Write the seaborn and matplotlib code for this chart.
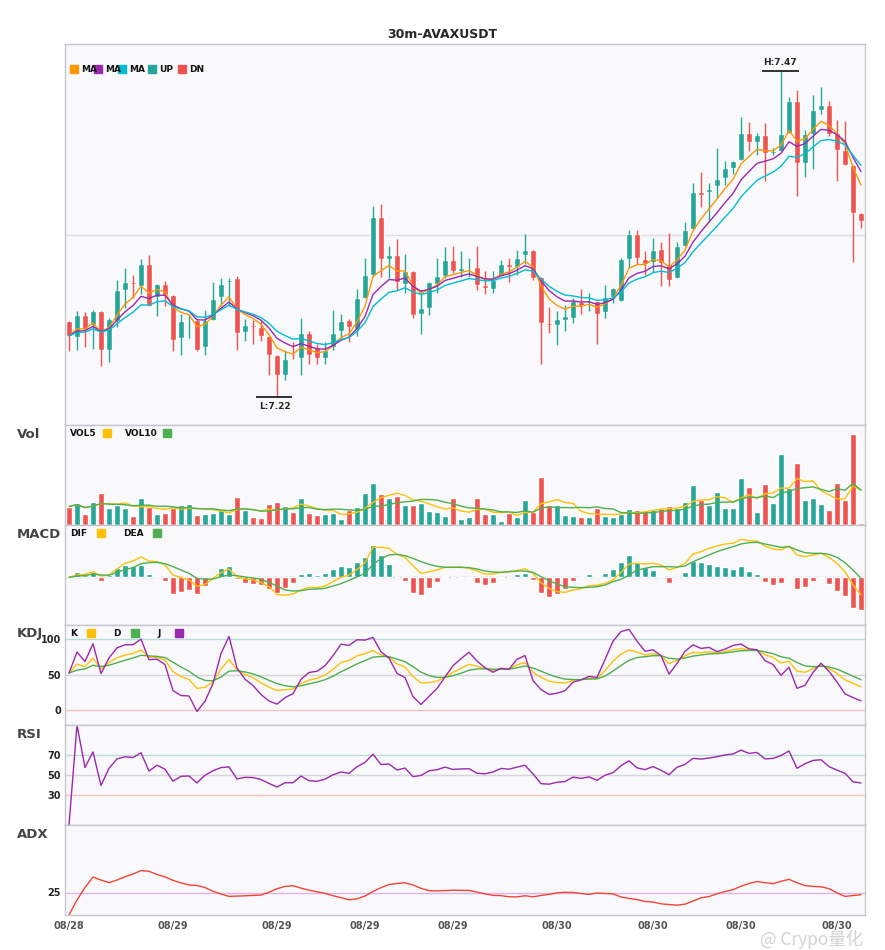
import numpy as np
import pandas as pd
import seaborn as sns
import matplotlib
matplotlib.use('Agg')
import matplotlib.pyplot as plt
from matplotlib.patches import Rectangle

# 30m candles
opens = [7.278, 7.266, 7.283, 7.275, 7.286, 7.256, 7.278, 7.302, 7.308, 7.305,
         7.322, 7.297, 7.307, 7.298, 7.265, 7.278, 7.279, 7.258, 7.279, 7.297,
         7.308, 7.311, 7.270, 7.275, 7.274, 7.267, 7.252, 7.237, 7.250, 7.250,
         7.269, 7.258, 7.250, 7.258, 7.271, 7.279, 7.272, 7.296, 7.314, 7.358,
         7.326, 7.329, 7.307, 7.317, 7.284, 7.288, 7.307, 7.313, 7.325, 7.317,
         7.319, 7.320, 7.306, 7.303, 7.313, 7.322, 7.320, 7.329, 7.333, 7.312,
         7.277, 7.275, 7.279, 7.281, 7.293, 7.292, 7.294, 7.285, 7.297, 7.294,
         7.326, 7.345, 7.326, 7.324, 7.334, 7.322, 7.311, 7.336, 7.349, 7.377,
         7.377, 7.382, 7.388, 7.396, 7.402, 7.423, 7.416, 7.421, 7.407, 7.409,
         7.423, 7.447, 7.400, 7.422, 7.440, 7.444, 7.423, 7.410, 7.398, 7.361]
highs = [7.278, 7.286, 7.285, 7.287, 7.286, 7.281, 7.310, 7.319, 7.314, 7.326,
         7.329, 7.307, 7.309, 7.298, 7.284, 7.284, 7.279, 7.287, 7.308, 7.311,
         7.311, 7.313, 7.280, 7.279, 7.278, 7.267, 7.252, 7.256, 7.262, 7.281,
         7.271, 7.261, 7.262, 7.287, 7.284, 7.280, 7.303, 7.327, 7.367, 7.368,
         7.336, 7.341, 7.330, 7.317, 7.302, 7.308, 7.327, 7.335, 7.336, 7.332,
         7.327, 7.336, 7.317, 7.317, 7.325, 7.327, 7.333, 7.345, 7.333, 7.312,
         7.289, 7.286, 7.291, 7.296, 7.303, 7.300, 7.294, 7.306, 7.304, 7.327,
         7.348, 7.348, 7.332, 7.342, 7.339, 7.346, 7.339, 7.354, 7.384, 7.393,
         7.384, 7.411, 7.401, 7.401, 7.435, 7.431, 7.423, 7.430, 7.411, 7.470,
         7.450, 7.456, 7.425, 7.452, 7.458, 7.447, 7.433, 7.432, 7.398, 7.361]
lows = [7.255, 7.256, 7.258, 7.257, 7.244, 7.247, 7.274, 7.288, 7.296, 7.299,
        7.290, 7.282, 7.290, 7.255, 7.252, 7.265, 7.255, 7.252, 7.279, 7.290,
        7.290, 7.256, 7.263, 7.261, 7.263, 7.237, 7.220, 7.233, 7.249, 7.237,
        7.245, 7.245, 7.245, 7.256, 7.265, 7.262, 7.267, 7.296, 7.313, 7.312,
        7.311, 7.302, 7.300, 7.281, 7.268, 7.283, 7.300, 7.311, 7.315, 7.312,
        7.312, 7.302, 7.299, 7.300, 7.313, 7.308, 7.314, 7.322, 7.310, 7.245,
        7.269, 7.260, 7.271, 7.277, 7.284, 7.286, 7.261, 7.281, 7.292, 7.294,
        7.319, 7.322, 7.314, 7.316, 7.305, 7.305, 7.311, 7.336, 7.348, 7.366,
        7.355, 7.373, 7.383, 7.391, 7.402, 7.409, 7.406, 7.386, 7.406, 7.409,
        7.423, 7.374, 7.389, 7.395, 7.437, 7.420, 7.386, 7.398, 7.324, 7.350]
closes = [7.267, 7.283, 7.272, 7.286, 7.256, 7.280, 7.302, 7.308, 7.307, 7.322,
          7.290, 7.307, 7.298, 7.264, 7.278, 7.279, 7.256, 7.279, 7.295, 7.307,
          7.310, 7.269, 7.275, 7.274, 7.267, 7.252, 7.237, 7.249, 7.249, 7.269,
          7.252, 7.250, 7.256, 7.269, 7.278, 7.274, 7.296, 7.314, 7.358, 7.326,
          7.329, 7.308, 7.317, 7.283, 7.288, 7.308, 7.313, 7.325, 7.317, 7.319,
          7.320, 7.306, 7.304, 7.310, 7.322, 7.320, 7.327, 7.333, 7.311, 7.277,
          7.275, 7.280, 7.282, 7.294, 7.290, 7.294, 7.284, 7.297, 7.304, 7.326,
          7.345, 7.327, 7.322, 7.333, 7.323, 7.310, 7.336, 7.348, 7.377, 7.375,
          7.380, 7.387, 7.396, 7.401, 7.423, 7.416, 7.421, 7.407, 7.409, 7.422,
          7.447, 7.400, 7.422, 7.440, 7.444, 7.422, 7.410, 7.398, 7.361, 7.355]
vol_k = [55, 67, 34, 70, 94, 52, 60, 52, 28, 79,
         55, 34, 37, 51, 61, 64, 31, 34, 37, 44,
         34, 82, 44, 25, 22, 64, 70, 58, 40, 79,
         37, 31, 34, 37, 19, 45, 55, 94, 124, 91,
         79, 85, 61, 61, 67, 43, 40, 28, 79, 19,
         25, 79, 34, 34, 13, 37, 25, 76, 40, 142,
         61, 61, 31, 28, 25, 25, 52, 28, 25, 34,
         49, 46, 43, 46, 52, 58, 52, 70, 118, 76,
         61, 97, 52, 52, 139, 112, 40, 121, 67, 211,
         109, 184, 76, 79, 64, 46, 124, 76, 271, 7]

# MACD (units of 1e-4)
dif_e4 = [0, 7, 9, 17, 4, 7, 25, 42, 49, 61,
          49, 47, 37, 7, -1, -8, -27, -21, -3, 14,
          25, 2, -5, -8, -15, -28, -51, -54, -50, -38,
          -30, -31, -26, -13, 0, 7, 23, 44, 90, 90,
          87, 69, 60, 35, 12, 17, 22, 30, 31, 31,
          27, 19, 10, 10, 15, 17, 20, 26, 12, -16,
          -33, -43, -45, -38, -34, -25, -24, -18, -8, 15,
          40, 42, 40, 42, 37, 22, 30, 42, 70, 77,
          87, 94, 100, 102, 114, 110, 109, 94, 85, 82,
          94, 67, 62, 67, 72, 60, 42, 17, -23, -53]
dea_e4 = [0, 4, 5, 10, 7, 6, 15, 23, 29, 41,
          44, 45, 41, 32, 22, 12, -3, -6, -5, 2,
          7, 5, 1, -2, -6, -15, -26, -38, -41, -40,
          -36, -35, -33, -26, -19, -9, 1, 12, 39, 56,
          67, 69, 65, 57, 47, 39, 33, 30, 30, 30,
          29, 25, 19, 16, 15, 17, 19, 19, 15, 2,
          -10, -20, -28, -30, -31, -30, -28, -23, -13, -6,
          7, 22, 27, 32, 32, 32, 31, 34, 47, 57,
          67, 77, 85, 92, 100, 104, 105, 100, 95, 90,
          92, 82, 74, 72, 72, 69, 60, 44, 22, -3]
hist_e4 = [0, 16, 8, 16, -10, 7, 28, 37, 34, 38,
           10, 4, -10, -50, -43, -37, -49, -26, 4, 28,
           34, -4, -16, -19, -22, -34, -46, -31, -16, 10,
           13, 7, 13, 26, 34, 31, 46, 61, 97, 67,
           40, 0, -10, -46, -52, -31, -13, 4, 0, -1,
           -2, -16, -22, -16, -2, 0, 10, 13, -8, -46,
           -58, -49, -34, -10, -2, 10, 4, 13, 25, 46,
           67, 45, 32, 22, 4, -16, 0, 16, 49, 46,
           40, 34, 31, 25, 34, 19, 10, -14, -22, -16,
           4, -35, -29, -10, -2, -19, -40, -55, -91, -98]

ma_spans = [5, 8, 12]
tick_idx = [0, 13, 26, 37, 48, 61, 73, 84, 96]
start_time = '2023-08-28 17:30'

UP = '#26a69a'
DN = '#ef5350'

df = pd.DataFrame({'open': opens, 'high': highs, 'low': lows,
                   'close': closes, 'vol': vol_k})
df['time'] = pd.date_range(start_time, periods=len(df), freq='30min')
df['idx'] = np.arange(len(df))
df['dif'] = np.array(dif_e4) / 1e4
df['dea'] = np.array(dea_e4) / 1e4
df['hist'] = np.array(hist_e4) / 1e4
c = df['close']

# moving averages (exponential)
for n in ma_spans:
    df[f'ma{n}'] = c.ewm(span=n, adjust=False).mean()
df['vol5'] = df['vol'].rolling(5, min_periods=1).mean()
df['vol10'] = df['vol'].rolling(10, min_periods=1).mean()

# KDJ
llv = df['low'].rolling(9, min_periods=1).min()
hhv = df['high'].rolling(9, min_periods=1).max()
rsv = (c - llv) / (hhv - llv) * 100
df['k'] = rsv.ewm(com=2, adjust=False).mean()
df['d'] = df['k'].ewm(com=2, adjust=False).mean()
df['j'] = 3 * df['k'] - 2 * df['d']

# RSI
delta = c.diff().fillna(0)
up_m = delta.clip(lower=0).ewm(alpha=1 / 14).mean()
dn_m = (-delta.clip(upper=0)).ewm(alpha=1 / 14).mean()
df['rsi'] = (100 - 100 / (1 + up_m / dn_m)).fillna(0)

# ADX
pc = c.shift(1)
tr = pd.concat([df['high'] - df['low'], (df['high'] - pc).abs(),
                (df['low'] - pc).abs()], axis=1).max(axis=1)
hd = df['high'].diff()
ld = -df['low'].diff()
pdm = pd.Series(np.where((hd > 0) & (hd > ld), hd, 0.0))
mdm = pd.Series(np.where((ld > 0) & (ld > hd), ld, 0.0))
atr = tr.ewm(alpha=1 / 14).mean()
pdi = 100 * pdm.ewm(alpha=1 / 14).mean() / atr
mdi = 100 * mdm.ewm(alpha=1 / 14).mean() / atr
dx = ((pdi - mdi).abs() / (pdi + mdi) * 100).fillna(0)
df['adx'] = dx.ewm(alpha=1 / 6, adjust=False).mean()

sns.set_theme(style='white')
plt.rcParams['font.family'] = ['DejaVu Sans', 'Noto Sans CJK SC']

W, H = 885, 950
fig = plt.figure(figsize=(W / 100, H / 100), dpi=100)


def panel(top, bottom):
    ax = fig.add_axes([65 / W, 1 - bottom / H, 800 / W, (bottom - top) / H])
    ax.set_facecolor('#f9f9fb')
    for s in ax.spines.values():
        s.set_color('#c6c6ce')
        s.set_linewidth(1)
    ax.set_xlim(-0.5, len(df) - 0.5)
    ax.set_xticks([])
    ax.set_yticks([])
    return ax


def line(ax, col, color, lw=1.0):
    sns.lineplot(data=df, x='idx', y=col, ax=ax, color=color, linewidth=lw, legend=False)
    ax.set_xlabel('')
    ax.set_ylabel('')


def legend_box(x, y, color):
    fig.add_artist(Rectangle((x / W, 1 - (y + 4) / H), 8 / W, 8 / H,
                             transform=fig.transFigure, color=color))


def legend_txt(x, y, s):
    fig.text(x / W, 1 - y / H, s, fontsize=6.5, fontweight='bold', va='center', color='#111')


def side_label(y, s):
    fig.text(17 / W, 1 - y / H, s, fontsize=9.5, fontweight='bold', va='center', color='#444')


def yticks(ax, vals):
    ax.set_yticks(vals)
    ax.tick_params(axis='y', labelsize=7, length=0, pad=3)
    for t in ax.get_yticklabels():
        t.set_fontweight('bold')


colors = np.where(df['close'] >= df['open'], UP, DN)

# ---- candles
ax = panel(44, 425)
ax.vlines(df['idx'], df['low'], df['high'], colors=colors, linewidth=1)
body_lo = np.minimum(df['open'], df['close'])
body_h = np.maximum((df['open'] - df['close']).abs(), 0.0008)
ax.bar(df['idx'], body_h, bottom=body_lo, width=0.66, color=colors)
for n, col in zip(ma_spans, ['#ff9800', '#9c27b0', '#00bcd4']):
    line(ax, f'ma{n}', col)
lo, hi = df['low'].min(), df['high'].max()
rng = hi - lo
ax.set_ylim(lo - 0.086 * rng, hi + 0.084 * rng)
ax.axhline(sum(ax.get_ylim()) / 2, color='#dcdce6', lw=1, zorder=0)
ih, il = df['high'].idxmax(), df['low'].idxmin()
ax.hlines(hi, ih - 2.4, ih + 2.2, color='#111', lw=1.2)
ax.text(ih - 0.1, hi + 0.0035, f'H:{hi:.2f}', ha='center', va='bottom', fontsize=6.5, fontweight='bold')
ax.hlines(lo, il - 2.6, il + 1.9, color='#111', lw=1.2)
ax.text(il - 0.3, lo - 0.004, f'L:{lo:.2f}', ha='center', va='top', fontsize=6.5, fontweight='bold')

fig.text(0.5, 1 - 34 / H, '30m-AVAXUSDT', ha='center', va='center', fontsize=9, fontweight='bold')
for x, t, col in [(70, 'MA', '#ff9800'), (94, 'MA', '#9c27b0'), (118, 'MA', '#00bcd4'),
                  (148, 'UP', UP), (178, 'DN', DN)]:
    legend_box(x, 69, col)
    legend_txt(x + 11, 69, t)

# ---- volume
ax = panel(425, 525)
ax.bar(df['idx'], df['vol'], width=0.66, color=colors)
line(ax, 'vol5', '#ffc107')
line(ax, 'vol10', '#4caf50')
ax.set_ylim(0, df['vol'].max() * 1.1)
side_label(435, 'Vol')
legend_txt(70, 433, 'VOL5')
legend_box(103, 433, '#ffc107')
legend_txt(125, 433, 'VOL10')
legend_box(163, 433, '#4caf50')

# ---- MACD
ax = panel(525, 625)
hc = np.where(df['hist'] >= 0, UP, DN)
ax.bar(df['idx'], df['hist'], width=0.66, color=hc)
ax.axhline(0, color='#cfcfd6', lw=1, zorder=0)
line(ax, 'dif', '#ffc107')
line(ax, 'dea', '#4caf50')
ax.set_ylim(-0.0143, 0.0157)
side_label(535, 'MACD')
legend_txt(70, 533, 'DIF')
legend_box(97, 533, '#ffc107')
legend_txt(123, 533, 'DEA')
legend_box(153, 533, '#4caf50')

# ---- KDJ
ax = panel(625, 725)
ax.axhline(100, color='#b9dcd8', lw=1)
ax.axhline(50, color='#d5d5dc', lw=1)
ax.axhline(0, color='#f6c0c0', lw=1)
line(ax, 'k', '#ffc107')
line(ax, 'd', '#4caf50')
line(ax, 'j', '#9c27b0')
ax.set_ylim(-21, 120)
yticks(ax, [0, 50, 100])
side_label(634, 'KDJ')
legend_txt(70, 633, 'K')
legend_box(87, 633, '#ffc107')
legend_txt(113, 633, 'D')
legend_box(131, 633, '#4caf50')
legend_txt(157, 633, 'J')
legend_box(175, 633, '#9c27b0')

# ---- RSI
ax = panel(725, 825)
ax.axhline(70, color='#b9dcd8', lw=1)
ax.axhline(50, color='#d5d5dc', lw=1)
ax.axhline(30, color='#f6c0c0', lw=1)
line(ax, 'rsi', '#9c27b0')
ax.set_ylim(0, 100)
yticks(ax, [30, 50, 70])
side_label(735, 'RSI')

# ---- ADX
ax = panel(825, 915)
ax.axhline(25, color='#dfb3e6', lw=1)
line(ax, 'adx', '#f44336')
ax.set_ylim(0, 100)
yticks(ax, [25])
ax.set_xticks(tick_idx)
ax.set_xticklabels([df['time'][i].strftime('%m/%d') for i in tick_idx])
ax.tick_params(axis='x', labelsize=7, length=0, pad=4, labelcolor='#555')
for t in ax.get_xticklabels():
    t.set_fontweight('bold')
side_label(835, 'ADX')

fig.text(812 / W, 1 - 939 / H, '@ Crypo量化', ha='center', va='center', fontsize=12.5,
         color='#c8c8c8', alpha=0.8, family=['Noto Sans CJK SC', 'DejaVu Sans'])

fig.savefig('out.png', dpi=100)
